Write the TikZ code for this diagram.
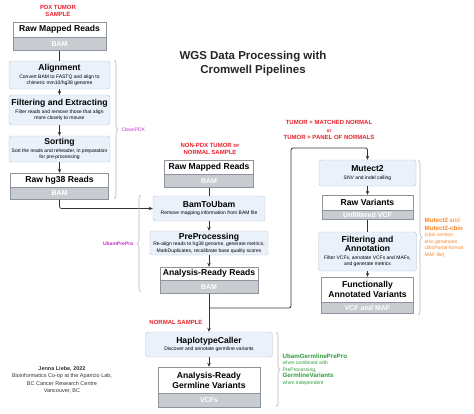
\documentclass[tikz,border=0pt]{standalone}
\usepackage{amssymb}
\usepackage{amsmath}
\usepackage{xcolor}
\usepackage{fontspec}
\setmainfont{Liberation Sans}
\usepackage{tikz}
\usetikzlibrary{positioning,arrows.meta,decorations.pathreplacing}

\definecolor{procfill}{HTML}{EAF1FB}
\definecolor{procline}{HTML}{B9C3CF}
\definecolor{fmtgray}{HTML}{C8CBD0}
\definecolor{boxline}{HTML}{8E949B}
\definecolor{samplered}{HTML}{E8202A}
\definecolor{wfmagenta}{HTML}{C42BC8}
\definecolor{wforange}{HTML}{F5852B}
\definecolor{wfgreen}{HTML}{2E9B3A}
\definecolor{bracegray}{HTML}{B4B4B4}

\newcommand{\boxttl}{\fontsize{8.6}{10}\selectfont\bfseries}
\newcommand{\subtxt}{\fontsize{5}{6.5}\selectfont}
\newcommand{\fmttxt}{\fontsize{7}{8}\selectfont\bfseries}
\newcommand{\labtxt}{\fontsize{5}{6.5}\selectfont}

\begin{document}
\begin{tikzpicture}[x=1pt,y=-1pt,>={Stealth[length=4pt,width=3.5pt]},
                    proc/.style={draw=procline,fill=procfill,rounded corners=2.5pt,align=center,inner sep=0.5pt,font=\subtxt},
                    datatop/.style={draw=boxline,fill=white,align=center,inner sep=0.5pt,font=\boxttl},
                    datafmt/.style={draw=boxline,fill=fmtgray,text=white,inner sep=0.5pt,font=\fmttxt},
                    sample/.style={text=samplered,font=\fontsize{6}{7.5}\selectfont\bfseries,align=center},
                    wire/.style={draw=black!80,line width=0.8pt},
                    grp/.style={draw=bracegray,line width=0.6pt,decorate,decoration={brace,amplitude=4pt}}]
                    \useasboundingbox (0,0) rectangle (474,413);

                    \node[font=\fontsize{11.5}{14}\selectfont\bfseries,text=black!85,align=center] (title) at (253,64) {WGS Data Processing with\\Cromwell Pipelines};

                    \node[sample] (pdx) at (58,11) {PDX TUMOR\\SAMPLE};
                    \node[datatop,minimum width=93,minimum height=15] (raw1) at (59.5,29.5) {Raw Mapped Reads};
                    \node[datafmt,minimum width=93,minimum height=13,below=0pt of raw1] (raw1f) {BAM};
                    \node[proc,minimum width=101,minimum height=28] (align) at (59.5,75) {{\boxttl Alignment}\\[1pt]Convert BAM to FASTQ and align to\\chimeric mm10/hg38 genome};
                    \node[proc,minimum width=101,minimum height=30] (filt) at (59.5,110) {{\boxttl Filtering and Extracting}\\[1pt]Filter reads and remove those that align\\more closely to mouse};
                    \node[proc,minimum width=101,minimum height=26] (sort) at (59.5,149) {{\boxttl Sorting}\\[1pt]Sort the reads and reheader, in preparation\\for pre-processing};
                    \node[datatop,minimum width=98,minimum height=14] (hg38) at (59.5,180) {Raw hg38 Reads};
                    \node[datafmt,minimum width=98,minimum height=12,below=0pt of hg38] (hg38f) {BAM};

                    \node[sample] (nonpdx) at (210,149) {NON-PDX TUMOR or\\NORMAL SAMPLE};
                    \node[datatop,minimum width=89,minimum height=14] (raw2) at (209,167) {Raw Mapped Reads};
                    \node[datafmt,minimum width=89,minimum height=13,below=0pt of raw2] (raw2f) {BAM};
                    \node[proc,minimum width=112,minimum height=25] (bam2u) at (209,208.5) {{\boxttl BamToUbam}\\[1pt]Remove mapping information from BAM file};
                    \node[proc,minimum width=118,minimum height=24] (prep) at (209,243) {{\boxttl PreProcessing}\\[0pt]Re-align reads to hg38 genome, generate metrics,\\MarkDuplicates, recalibrate base quality scores};
                    \node[datatop,minimum width=98,minimum height=13] (arr) at (209,273.5) {Analysis-Ready Reads};
                    \node[datafmt,minimum width=98,minimum height=13,below=0pt of arr] (arrf) {BAM};

                    \coordinate (fork) at (209,308);
                    \coordinate (bend) at (291,148);
                    \node[sample,anchor=east] (normal) at (206,322) {NORMAL SAMPLE};
                    \node[proc,minimum width=127,minimum height=25] (hap) at (209,344.5) {{\boxttl HaplotypeCaller}\\[1pt]Discover and annotate germline variants};
                    \node[datatop,minimum width=102,minimum height=26] (germ) at (209,380) {Analysis-Ready\\Germline Variants};
                    \node[datafmt,minimum width=102,minimum height=14,below=0pt of germ] (germf) {VCFs};

                    \node[sample] (tumor) at (329,130) {TUMOR + MATCHED NORMAL\\{\fontsize{5}{6}\selectfont or}\\TUMOR + PANEL OF NORMALS};
                    \node[proc,minimum width=97,minimum height=26] (mut) at (367.5,173) {{\boxttl Mutect2}\\[1pt]SNV and indel calling};
                    \node[datatop,minimum width=91,minimum height=15] (rawv) at (367.5,202.5) {Raw Variants};
                    \node[datafmt,minimum width=91,minimum height=9,below=0pt of rawv] (rawvf) {Unfiltered VCF};
                    \node[proc,minimum width=98,minimum height=39] (filtann) at (367.5,251.5) {{\boxttl Filtering and}\\{\boxttl Annotation}\\[1pt]Filter VCFs, annotate VCFs and MAFs,\\and generate metrics};
                    \node[datatop,minimum width=92,minimum height=25] (func) at (367.5,289.5) {Functionally\\Annotated Variants};
                    \node[datafmt,minimum width=92,minimum height=11,below=0pt of func] (funcf) {VCF and MAF};

                    \draw[wire] (raw1f.south) -- (align.north);
                    \draw[wire,->] (align.south) -- (filt.north);
                    \draw[wire,->] (filt.south) -- (sort.north);
                    \draw[wire,->] (sort.south) -- (hg38.north);
                    \draw[wire,->,rounded corners=2pt] (hg38f.south) |- (bam2u.west);
                    \draw[wire] (raw2f.south) -- (bam2u.north);
                    \draw[wire,->] (bam2u.south) -- (prep.north);
                    \draw[wire,->] (prep.south) -- (arr.north);
                    \draw[wire] (arrf.south) -- (fork);
                    \draw[wire,->] (fork) -- (hap.north);
                    \draw[wire,->,rounded corners=2pt] (fork) -| (bend) -| (mut.north);
                    \draw[wire,->] (hap.south) -- (germ.north);
                    \draw[wire,->] (mut.south) -- (rawv.north);
                    \draw[wire] (rawvf.south) -- (filtann.north);
                    \draw[wire,->] (filtann.south) -- (func.north);

                    \draw[grp] (114,60) -- (114,199) node[midway,right=4pt,text=wfmagenta,font=\labtxt] (cleanlbl) {CleanPDX};
                    \draw[grp] (141,292) -- (141,195) node[midway,left=4pt,text=wfmagenta,font=\labtxt\bfseries] (ubamlbl) {UbamPrePro};
                    \draw[grp] (418,160) -- (418,315) node[midway,right=3pt,text=wforange,font=\labtxt,align=left] (mutlbl) {{\fontsize{6.2}{9}\selectfont\bfseries Mutect2} {\fontsize{6.2}{9}\selectfont and}\\[1.5pt]{\fontsize{6.2}{9}\selectfont\bfseries Mutect2-cbio}\\(cbio version\\also generates\\cBioPortal-format\\MAF file)};
                    \draw[grp] (276,332) -- (276,407) node[midway,right=3pt,text=wfgreen,font=\labtxt,align=left] (germlbl) {{\fontsize{6.2}{8}\selectfont\bfseries UbamGermlinePrePro}\\when combined with\\PreProcessing,\\{\fontsize{6.2}{8}\selectfont\bfseries GermlineVariants}\\when independent};

                    \node[font=\fontsize{5.5}{7.5}\selectfont,text=black!80,align=center] (credit) at (62,380) {{\bfseries Jenna Liebe, 2022}\\Bioinformatics Co-op at the Aparicio Lab,\\BC Cancer Research Centre\\Vancouver, BC};
                \end{tikzpicture}
\end{document}
